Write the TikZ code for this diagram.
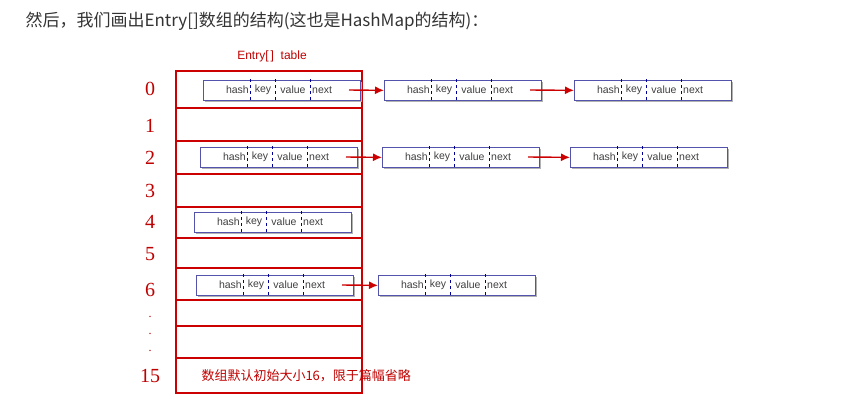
\documentclass[tikz,border=0pt]{standalone}
\usepackage{fontspec}
\usetikzlibrary{arrows.meta}
\setmainfont{Liberation Serif}
\newfontfamily\cjk{Noto Sans CJK SC}
\newfontfamily\lsans{Liberation Sans}
\begin{document}
\begin{tikzpicture}[x=1pt,y=-1pt,
  tbl/.style={draw=red!80!black,line width=1.3pt},
  ebox/.style={draw=blue!35!gray,fill=white,line width=0.7pt,minimum width=157pt,minimum height=20pt,anchor=north west,inner sep=0pt},
  shadow/.style={fill=gray!60},
  divl/.style={draw=blue!60!black,dashed,line width=0.9pt},
  ctext/.style={font=\lsans\fontsize{10.5}{12}\selectfont,text=black!75,inner sep=0pt},
  idx/.style={font=\fontsize{20}{22}\selectfont,text=red!75!black},
  link/.style={draw=red!80!black,line width=1.4pt,-{Latex[length=9pt,width=8pt]}}]
\useasboundingbox (0,0) rectangle (841,408);
\newcommand\entrybox[3]{%
  \fill[shadow] (#2+2,#3+2) rectangle (#2+159,#3+22);
  \node[ebox] (#1) at (#2,#3) {};
  \draw[divl] (#2+47,#3-1) -- (#2+47,#3+21);
  \draw[divl] (#2+72,#3-1) -- (#2+72,#3+21);
  \draw[divl] (#2+107,#3-1) -- (#2+107,#3+21);
  \node[ctext,anchor=east] at (#2+46,#3+10) {hash};
  \node[ctext] at (#2+60,#3+10) {key};
  \node[ctext] at (#2+90,#3+10) {value};
  \node[ctext,anchor=west] (#1n) at (#2+109,#3+10) {next};
  \coordinate (#1o) at (#2+146,#3+10);
}
\node[anchor=west,font=\cjk\fontsize{17}{19}\selectfont,text=black!80] (title) at (22,21) {然后，我们画出Entry[]数组的结构(这也是HashMap的结构)：};
\node[font=\lsans\fontsize{12}{13}\selectfont,text=red!75!black] (tname) at (272,56) {Entry[\,]\ \ table};
\foreach \ya/\yb [count=\i] in {71/108,108/141,141/174,174/207,207/238,238/268,268/300,300/326,326/358,358/393}
  \draw[tbl] (176,\ya) rectangle (362,\yb);
\foreach \t/\y in {0/89,1/126,2/158,3/191,4/222,5/254,6/290,15/376}
  \node[idx] at (150,\y) {\t};
\foreach \y in {320,337,354}
  \node[idx,font=\fontsize{12}{12}\selectfont] at (150,\y-3) {.};
\entrybox{a0}{203}{80}
\entrybox{a1}{384}{80}
\entrybox{a2}{574}{80}
\entrybox{b0}{200}{147}
\entrybox{b1}{382}{147}
\entrybox{b2}{570}{147}
\entrybox{c0}{194}{212}
\entrybox{d0}{196}{275}
\entrybox{d1}{378}{275}
\draw[link] (a0o) -- (a1.west);
\draw[link] (a1o) -- (a2.west);
\draw[link] (b0o) -- (b1.west);
\draw[link] (b1o) -- (b2.west);
\draw[link] (d0o) -- (d1.west);
\node[anchor=west,font=\cjk\fontsize{13}{15}\selectfont,text=red!75!black] (note) at (198,376) {数组默认初始大小16，限于篇幅省略};
\end{tikzpicture}
\end{document}
